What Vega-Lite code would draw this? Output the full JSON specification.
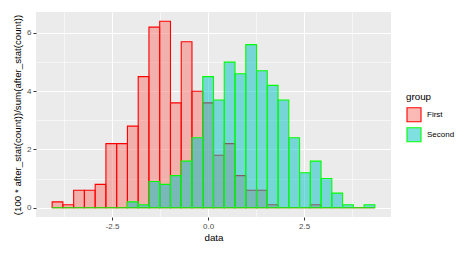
{
  "$schema": "https://vega.github.io/schema/vega-lite/v6.json",
  "width": 355,
  "height": 205,
  "autosize": {"type": "none"},
  "padding": {"left": 36, "top": 12, "right": 83, "bottom": 41},
  "background": "white",
  "config": {
    "font": "Liberation Sans",
    "view": {"fill": "#EBEBEB", "stroke": null}
  },
  "data": {
    "values": [
      {"group": "First", "bin_start": -4.06, "bin_end": -3.78, "pct": 0.2},
      {"group": "First", "bin_start": -3.78, "bin_end": -3.50, "pct": 0.1},
      {"group": "First", "bin_start": -3.50, "bin_end": -3.22, "pct": 0.6},
      {"group": "First", "bin_start": -3.22, "bin_end": -2.94, "pct": 0.6},
      {"group": "First", "bin_start": -2.94, "bin_end": -2.66, "pct": 0.8},
      {"group": "First", "bin_start": -2.66, "bin_end": -2.38, "pct": 2.2},
      {"group": "First", "bin_start": -2.38, "bin_end": -2.10, "pct": 2.2},
      {"group": "First", "bin_start": -2.10, "bin_end": -1.82, "pct": 2.8},
      {"group": "First", "bin_start": -1.82, "bin_end": -1.54, "pct": 4.5},
      {"group": "First", "bin_start": -1.54, "bin_end": -1.26, "pct": 6.2},
      {"group": "First", "bin_start": -1.26, "bin_end": -0.98, "pct": 6.4},
      {"group": "First", "bin_start": -0.98, "bin_end": -0.70, "pct": 3.6},
      {"group": "First", "bin_start": -0.70, "bin_end": -0.42, "pct": 5.7},
      {"group": "First", "bin_start": -0.42, "bin_end": -0.14, "pct": 4.0},
      {"group": "First", "bin_start": -0.14, "bin_end": 0.14, "pct": 3.6},
      {"group": "First", "bin_start": 0.14, "bin_end": 0.42, "pct": 1.8},
      {"group": "First", "bin_start": 0.42, "bin_end": 0.70, "pct": 2.2},
      {"group": "First", "bin_start": 0.70, "bin_end": 0.98, "pct": 1.1},
      {"group": "First", "bin_start": 0.98, "bin_end": 1.26, "pct": 0.6},
      {"group": "First", "bin_start": 1.26, "bin_end": 1.54, "pct": 0.6},
      {"group": "First", "bin_start": 1.54, "bin_end": 1.82, "pct": 0.1},
      {"group": "First", "bin_start": 1.82, "bin_end": 2.10, "pct": 0},
      {"group": "First", "bin_start": 2.10, "bin_end": 2.38, "pct": 0},
      {"group": "First", "bin_start": 2.38, "bin_end": 2.66, "pct": 0},
      {"group": "First", "bin_start": 2.66, "bin_end": 2.94, "pct": 0.1},
      {"group": "First", "bin_start": 2.94, "bin_end": 3.22, "pct": 0},
      {"group": "First", "bin_start": 3.22, "bin_end": 3.50, "pct": 0},
      {"group": "First", "bin_start": 3.50, "bin_end": 3.78, "pct": 0},
      {"group": "First", "bin_start": 3.78, "bin_end": 4.06, "pct": 0},
      {"group": "First", "bin_start": 4.06, "bin_end": 4.34, "pct": 0},
      {"group": "Second", "bin_start": -4.06, "bin_end": -3.78, "pct": 0},
      {"group": "Second", "bin_start": -3.78, "bin_end": -3.50, "pct": 0},
      {"group": "Second", "bin_start": -3.50, "bin_end": -3.22, "pct": 0},
      {"group": "Second", "bin_start": -3.22, "bin_end": -2.94, "pct": 0},
      {"group": "Second", "bin_start": -2.94, "bin_end": -2.66, "pct": 0},
      {"group": "Second", "bin_start": -2.66, "bin_end": -2.38, "pct": 0},
      {"group": "Second", "bin_start": -2.38, "bin_end": -2.10, "pct": 0},
      {"group": "Second", "bin_start": -2.10, "bin_end": -1.82, "pct": 0.2},
      {"group": "Second", "bin_start": -1.82, "bin_end": -1.54, "pct": 0.1},
      {"group": "Second", "bin_start": -1.54, "bin_end": -1.26, "pct": 0.9},
      {"group": "Second", "bin_start": -1.26, "bin_end": -0.98, "pct": 0.8},
      {"group": "Second", "bin_start": -0.98, "bin_end": -0.70, "pct": 1.1},
      {"group": "Second", "bin_start": -0.70, "bin_end": -0.42, "pct": 1.6},
      {"group": "Second", "bin_start": -0.42, "bin_end": -0.14, "pct": 2.4},
      {"group": "Second", "bin_start": -0.14, "bin_end": 0.14, "pct": 4.5},
      {"group": "Second", "bin_start": 0.14, "bin_end": 0.42, "pct": 3.7},
      {"group": "Second", "bin_start": 0.42, "bin_end": 0.70, "pct": 5.0},
      {"group": "Second", "bin_start": 0.70, "bin_end": 0.98, "pct": 4.6},
      {"group": "Second", "bin_start": 0.98, "bin_end": 1.26, "pct": 5.6},
      {"group": "Second", "bin_start": 1.26, "bin_end": 1.54, "pct": 4.7},
      {"group": "Second", "bin_start": 1.54, "bin_end": 1.82, "pct": 4.2},
      {"group": "Second", "bin_start": 1.82, "bin_end": 2.10, "pct": 3.7},
      {"group": "Second", "bin_start": 2.10, "bin_end": 2.38, "pct": 2.4},
      {"group": "Second", "bin_start": 2.38, "bin_end": 2.66, "pct": 1.2},
      {"group": "Second", "bin_start": 2.66, "bin_end": 2.94, "pct": 1.6},
      {"group": "Second", "bin_start": 2.94, "bin_end": 3.22, "pct": 1.0},
      {"group": "Second", "bin_start": 3.22, "bin_end": 3.50, "pct": 0.5},
      {"group": "Second", "bin_start": 3.50, "bin_end": 3.78, "pct": 0.1},
      {"group": "Second", "bin_start": 3.78, "bin_end": 4.06, "pct": 0},
      {"group": "Second", "bin_start": 4.06, "bin_end": 4.34, "pct": 0.1}
    ]
  },
  "mark": {"type": "rect", "fillOpacity": 0.5, "strokeWidth": 1.1},
  "encoding": {
    "x": {
      "field": "bin_start",
      "type": "quantitative",
      "scale": {"domain": [-4.48, 4.76], "nice": false, "zero": false},
      "axis": {
        "title": "data",
        "values": [-3.75, -2.5, -1.25, 0, 1.25, 2.5, 3.75],
        "labelExpr": "datum.value == -2.5 ? '-2.5' : datum.value == 0 ? '0.0' : datum.value == 2.5 ? '2.5' : ''",
        "domain": false,
        "grid": true,
        "gridColor": "white",
        "gridWidth": {"condition": {"test": "datum.value == 0 || abs(datum.value) == 2.5", "value": 1.1}, "value": 0.55},
        "tickColor": "#333333",
        "tickOpacity": {"condition": {"test": "datum.value == 0 || abs(datum.value) == 2.5", "value": 1}, "value": 0},
        "tickSize": 3,
        "tickWidth": 1,
        "labelColor": "#4D4D4D",
        "labelFontSize": 8,
        "labelPadding": 2,
        "labelOverlap": false,
        "labelFlush": false,
        "titleFontSize": 9.8,
        "titleFontWeight": "normal",
        "titleColor": "black",
        "titlePadding": 2
      }
    },
    "x2": {"field": "bin_end"},
    "y": {
      "field": "pct",
      "type": "quantitative",
      "scale": {"domain": [-0.32, 6.72], "nice": false, "zero": false},
      "axis": {
        "title": "(100 * after_stat(count))/sum(after_stat(count))",
        "values": [0, 1, 2, 3, 4, 5, 6],
        "labelExpr": "datum.value % 2 == 0 ? format(datum.value, 'd') : ''",
        "domain": false,
        "grid": true,
        "gridColor": "white",
        "gridWidth": {"condition": {"test": "datum.value % 2 == 0", "value": 1.1}, "value": 0.55},
        "tickColor": "#333333",
        "tickOpacity": {"condition": {"test": "datum.value % 2 == 0", "value": 1}, "value": 0},
        "tickSize": 3,
        "tickWidth": 1,
        "labelColor": "#4D4D4D",
        "labelFontSize": 8,
        "labelPadding": 2,
        "labelOverlap": false,
        "labelFlush": false,
        "titleFontSize": 9.7,
        "titleFontWeight": "normal",
        "titleColor": "black",
        "titlePadding": 4
      }
    },
    "y2": {"datum": 0},
    "fill": {
      "field": "group",
      "type": "nominal",
      "scale": {"domain": ["First", "Second"], "range": ["#F8766D", "#00BFC4"]},
      "legend": {
        "title": "group",
        "orient": "none",
        "legendX": 370,
        "legendY": 80,
        "padding": 0,
        "titleFontSize": 9.8,
        "titleFontWeight": "normal",
        "titleColor": "black",
        "titlePadding": 5,
        "labelFontSize": 8,
        "labelColor": "black",
        "labelOffset": 5,
        "symbolType": "square",
        "symbolSize": 196,
        "symbolStrokeWidth": 1.1,
        "rowPadding": 0,
        "encode": {"symbols": {"update": {"fillOpacity": {"value": 0.5}}}}
      }
    },
    "stroke": {
      "field": "group",
      "type": "nominal",
      "scale": {"domain": ["First", "Second"], "range": ["#FF0000", "#00FF00"]},
      "legend": {
        "title": "group",
        "orient": "none",
        "legendX": 370,
        "legendY": 80,
        "padding": 0,
        "titleFontSize": 9.8,
        "titleFontWeight": "normal",
        "titleColor": "black",
        "titlePadding": 5,
        "labelFontSize": 8,
        "labelColor": "black",
        "labelOffset": 5,
        "symbolType": "square",
        "symbolSize": 196,
        "symbolStrokeWidth": 1.1,
        "rowPadding": 0,
        "encode": {"symbols": {"update": {"fillOpacity": {"value": 0.5}}}}
      }
    }
  }
}
